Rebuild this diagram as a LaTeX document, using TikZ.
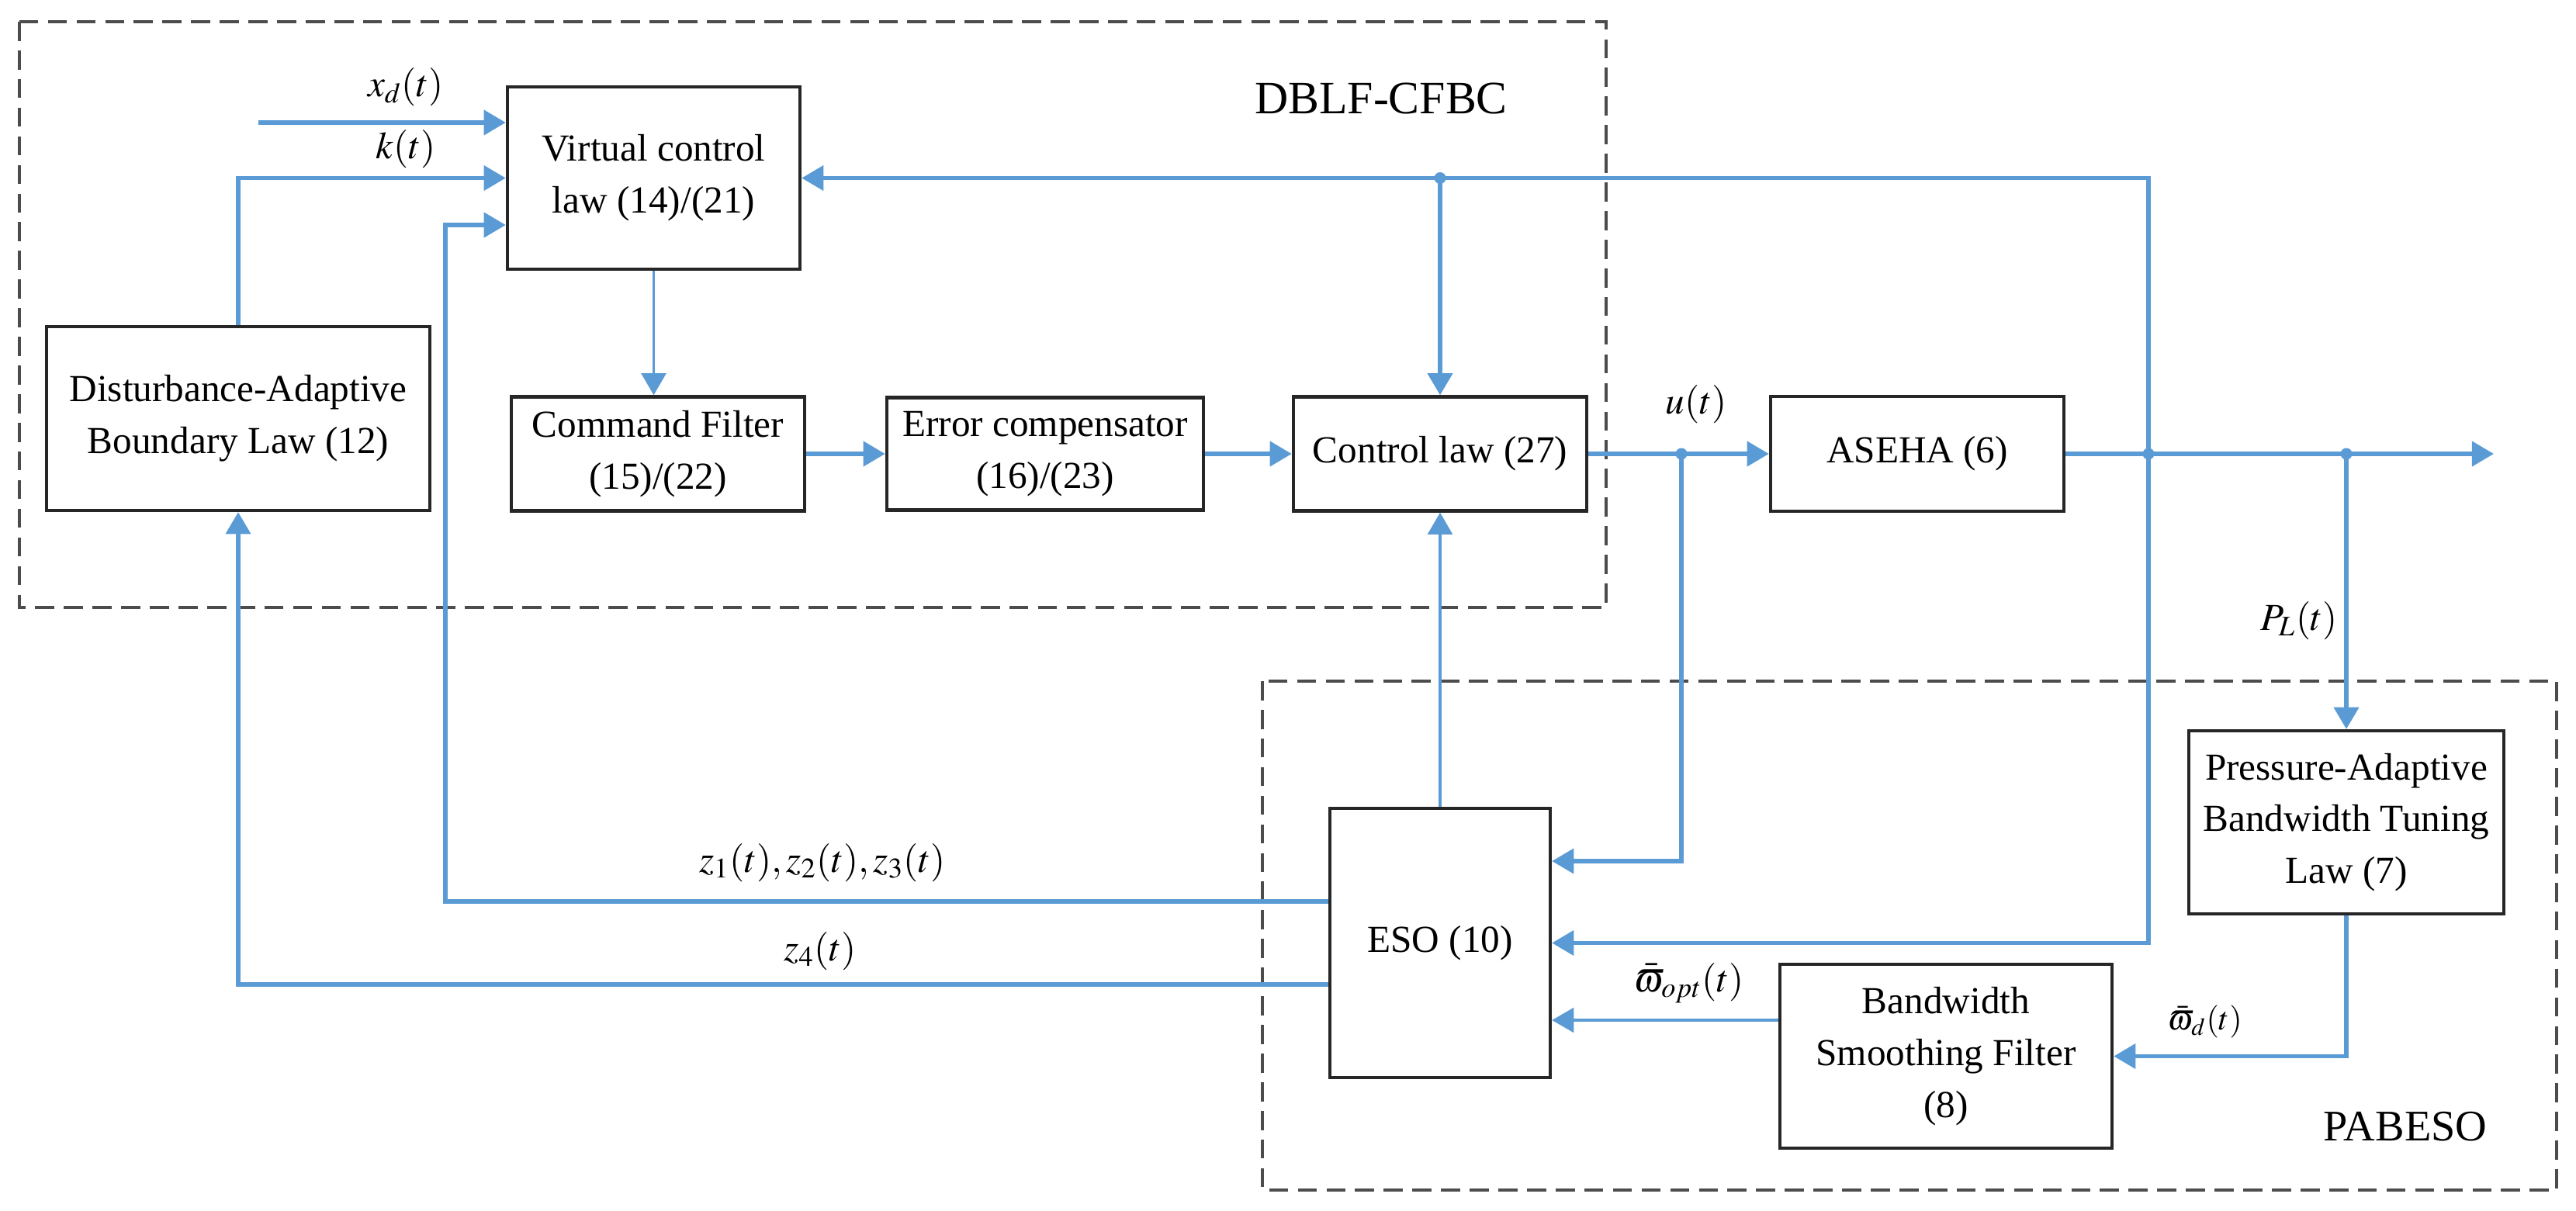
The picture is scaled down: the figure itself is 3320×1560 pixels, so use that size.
\documentclass[tikz,border=0pt]{standalone}
\usepackage{mathptmx}
\usepackage[no-math]{fontspec}
\setmainfont{Liberation Serif}
\usetikzlibrary{arrows.meta}
\definecolor{sig}{RGB}{91,155,213}
\begin{document}
\begin{tikzpicture}[x=0.01cm,y=-0.01cm,
  blk/.style={draw=black!85, line width=1.2pt, fill=white, align=center, inner sep=0pt, font=\fontsize{14}{19}\selectfont},
  con/.style={draw=sig, line width=1.5pt},
  thinc/.style={draw=sig, line width=1.0pt},
  arr/.style={-{Triangle[length=8pt,width=9pt]}},
  grp/.style={draw=black!70, line width=1pt, dash pattern=on 7pt off 3.5pt},
  dot/.style={circle, fill=sig, inner sep=0pt, minimum size=0.15cm},
  lab/.style={font=\fontsize{14}{17}\selectfont, inner sep=0pt},
]
\useasboundingbox (0,0) rectangle (3320,1560);

% group frames
\draw[grp] (25,28) rectangle (2070,783);
\draw[grp] (1627,878) rectangle (3295,1534);
\node[lab, font=\fontsize{17}{20}\selectfont] (dblf) at (1780,127) {DBLF-CFBC};
\node[lab, font=\fontsize{16}{19}\selectfont] (pab) at (3100,1452) {PABESO};

% blocks
\node[blk, minimum width=3.77cm, minimum height=2.35cm] (vc) at (842.5,229.5) {Virtual control\\law (14)/(21)};
\node[blk, minimum width=4.94cm, minimum height=2.37cm] (dist) at (307,539.5) {Disturbance-Adaptive\\Boundary Law (12)};
\node[blk, minimum width=3.78cm, minimum height=1.47cm] (cf) at (848,585) {Command Filter\\(15)/(22)};
\node[blk, minimum width=4.08cm, minimum height=1.45cm] (ec) at (1347,585) {Error compensator\\(16)/(23)};
\node[blk, minimum width=3.78cm, minimum height=1.47cm] (cl) at (1856,585) {Control law (27)};
\node[blk, minimum width=3.78cm, minimum height=1.48cm] (ase) at (2471,585) {ASEHA (6)};
\node[blk, minimum width=2.84cm, minimum height=3.47cm] (eso) at (1856,1215.5) {ESO (10)};
\node[blk, minimum width=4.06cm, minimum height=2.36cm] (pal) at (3024,1060) {Pressure-Adaptive\\Bandwidth Tuning\\Law (7)};
\node[blk, minimum width=4.28cm, minimum height=2.37cm] (bsf) at (2508,1361.5) {Bandwidth\\Smoothing Filter\\(8)};

% inputs to virtual control law
\coordinate (xds) at (333,158);
\draw[con,arr] (xds) -- (xds -| vc.west);
\draw[con,arr] (dist.north) |- (vc.west);
\coordinate (zc) at (574,1162);
\coordinate (zt) at (574,290);
\draw[con,arr] (zc -| eso.west) -- (zc) -- (zt) -- (zt -| vc.west);
\coordinate (z4c) at (307,1269);
\draw[con,arr] (z4c -| eso.west) -- (z4c) -- (dist.south);

% forward path
\draw[thinc,arr] (vc.south) -- (vc.south |- cf.north);
\draw[con,arr] (cf.east) -- (ec.west);
\draw[con,arr] (ec.east) -- (cl.west);
\draw[con,arr] (cl.east) -- (ase.west);
\coordinate (ud) at (2167,585);
\coordinate (fb) at (2769,585);
\coordinate (pd) at (3024,585);
\coordinate (outend) at (3214,585);
\draw[con,arr] (ase.east) -- (outend);
\node[dot] (d1) at (ud) {};
\node[dot] (d2) at (fb) {};
\node[dot] (d3) at (pd) {};

% feedback of output
\coordinate (fbtop) at (2769,229.5);
\draw[con,arr] (fb) -- (fbtop) -- (vc.east);
\coordinate (cldot) at (1856,229.5);
\node[dot] (d4) at (cldot) {};
\draw[con,arr] (cldot) -- (cl.north);
\draw[con,arr] (fb) |- (eso.east);
\coordinate (ueso) at (2167,1110);
\draw[con,arr] (ud) -- (ueso) -- (ueso -| eso.east);
\draw[thinc,arr] (eso.north) -- (cl.south);

% PABESO internals
\draw[con,arr] (pd) -- (pal.north);
\draw[con,arr] (pal.south) |- (bsf.east);
\coordinate (wo) at (2294,1315);
\draw[thinc,arr] (bsf.west |- wo) -- (eso.east |- wo);

% signal labels
\node[lab] (lxd) at (523,112) {$x_d(t)$};
\node[lab] (lk) at (523,192) {$k(t)$};
\node[lab] (lu) at (2186,521) {$u(t)$};
\node[lab] (lp) at (2963,800) {$P_L(t)$};
\node[lab] (lz) at (1060,1112) {$z_1(t), z_2(t), z_3(t)$};
\node[lab] (lz4) at (1057,1226) {$z_4(t)$};
\node[lab] (lwo) at (2177,1267) {$\bar{\varpi}_{opt}(t)$};
\node[lab, font=\fontsize{12}{14}\selectfont] (lwd) at (2842,1317) {$\bar{\varpi}_{d}(t)$};
\end{tikzpicture}
\end{document}
